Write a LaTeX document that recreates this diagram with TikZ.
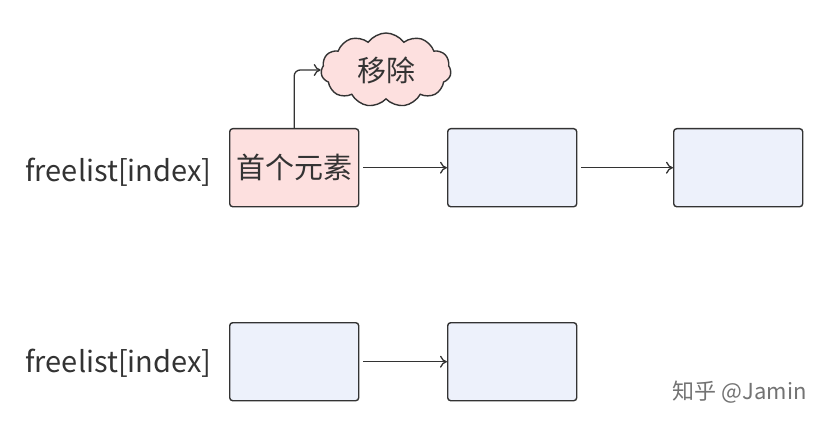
\documentclass[tikz,border=0pt]{standalone}
\usepackage{fontspec}
\setmainfont{Noto Sans CJK SC}
\usetikzlibrary{shapes.symbols,arrows.meta}
\definecolor{pk}{HTML}{FDE0DF}
\definecolor{bl}{HTML}{EDF1FB}
\definecolor{ln}{HTML}{333333}
\begin{document}
\begin{tikzpicture}[x=1pt,y=-1pt,
  box/.style={draw=ln,line width=1.4pt,rounded corners=3pt,fill=bl,minimum width=129pt,minimum height=78pt,anchor=north west,inner sep=0pt},
  lab/.style={font=\fontsize{29}{32}\selectfont,text=ln},
  con/.style={draw=ln,line width=1.3pt,-{To[length=7pt,width=12pt]}}]
\useasboundingbox[fill=white] (0,0) rectangle (830,425);
\node[box,fill=pk,lab] (a) at (229,128) {首个元素};
\node[box] (b) at (447,128) {};
\node[box] (c) at (673,128) {};
\node[box] (d) at (229,322) {};
\node[box] (e) at (447,322) {};
\node[lab,anchor=west] (l1) at (22,172) {freelist[index]};
\node[lab,anchor=west] (l2) at (22,363) {freelist[index]};
\node[cloud,cloud puffs=11,cloud puff arc=110,aspect=1.8,draw=ln,line width=1.4pt,fill=pk,minimum width=130pt,minimum height=74pt,inner sep=0pt,lab] (m) at (386,70) {移除};
\draw[con,rounded corners=6pt] (a.north) |- (m.west);
\draw[con] ([xshift=4pt]a.east) -- (b.west);
\draw[con] ([xshift=4pt]b.east) -- (c.west);
\draw[con] ([xshift=4pt]d.east) -- (e.west);
\node[font=\fontsize{22}{24}\selectfont,text=black!55,anchor=east] (w) at (810,392) {知乎 @Jamin};
\end{tikzpicture}
\end{document}
